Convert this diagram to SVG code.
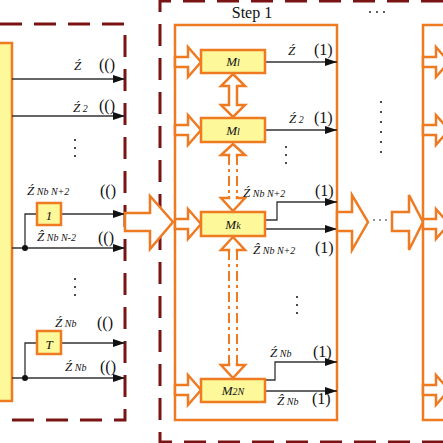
<svg xmlns="http://www.w3.org/2000/svg" width="443" height="443" viewBox="0 0 443 443">
<style>
.dash{fill:none;stroke:#7a1414;stroke-width:3;stroke-dasharray:22 12}
.obox{fill:none;stroke:#ee7a22;stroke-width:2.5}
.ybox{fill:#fdf89a;stroke:#ee7a22;stroke-width:2.5}
.harrow{fill:#fff;stroke:#ee7a22;stroke-width:2.5;stroke-linejoin:miter}
.ln{fill:none;stroke:#333;stroke-width:1.3}
.dsh{fill:none;stroke:#ee7a22;stroke-width:2;stroke-dasharray:10 4 3 4}
.lab{font-family:"Liberation Serif",serif;font-style:italic;font-size:13px;fill:#111}
.sub{font-size:10px}
.par{font-family:"Liberation Serif",serif;font-size:16px;fill:#111}
.mt{font-family:"Liberation Serif",serif;font-style:italic;font-size:13px;fill:#111}
.dot{fill:#111}
</style>
<defs>
<marker id="ah" viewBox="0 0 12 8" refX="12" refY="4" markerWidth="12" markerHeight="8" markerUnits="userSpaceOnUse" orient="auto">
<path d="M0,0 L12,4 L0,8 Z" fill="#111"/>
</marker>
<polygon id="inarrow" points="0,-5 13,-5 13,-15 26,0 13,15 13,5 0,5"/>
</defs>
<rect width="443" height="443" fill="#fff"/>

<g id="dashed-boxes">
<path class="dash" d="M0,24 H125 V420 H0"/>
<path class="dash" d="M443,1 H160 V442 H443"/>
</g>

<g id="source">
<rect class="ybox" x="-10" y="43" width="22" height="358"/>
</g>

<g id="step1-box">
<rect class="obox" x="175" y="25" width="162" height="395"/>
<text x="252" y="18" text-anchor="middle" font-family="Liberation Serif, serif" font-size="16" fill="#111">Step 1</text>
</g>

<g id="next-step-box">
<rect class="obox" x="423" y="25" width="100" height="395"/>
</g>

<g id="connectors">
<line class="ln" x1="12" y1="79" x2="125" y2="79" marker-end="url(#ah)"/>
<line class="ln" x1="12" y1="116" x2="125" y2="116" marker-end="url(#ah)"/>
<line class="ln" x1="12" y1="248" x2="125" y2="248" marker-end="url(#ah)"/>
<polyline class="ln" points="25,248 25,214 37,214"/>
<line class="ln" x1="61" y1="214" x2="125" y2="214" marker-end="url(#ah)"/>
<circle class="dot" cx="25" cy="248" r="3"/>
<line class="ln" x1="12" y1="378" x2="125" y2="378" marker-end="url(#ah)"/>
<polyline class="ln" points="25,378 25,343 37,343"/>
<line class="ln" x1="61" y1="343" x2="125" y2="343" marker-end="url(#ah)"/>
<circle class="dot" cx="25" cy="378" r="3"/>

<line class="ln" x1="265" y1="62" x2="337" y2="62" marker-end="url(#ah)"/>
<line class="ln" x1="265" y1="130" x2="337" y2="130" marker-end="url(#ah)"/>
<polyline class="ln" points="265,220 277,220 277,202 337,202" marker-end="url(#ah)"/>
<line class="ln" x1="265" y1="229" x2="337" y2="229" marker-end="url(#ah)"/>
<polyline class="ln" points="265,380 275,380 275,362 337,362" marker-end="url(#ah)"/>
<line class="ln" x1="265" y1="391" x2="337" y2="391" marker-end="url(#ah)"/>

<polygon class="harrow" points="125,213 150,213 150,196 173,222 150,249 150,231 125,231"/>
<polygon class="harrow" points="337,212 352,212 352,195 368,222 352,250 352,231 337,231"/>
<polygon class="harrow" points="392,212 409,212 409,195 423,222 409,250 409,231 392,231"/>

<use href="#inarrow" class="harrow" x="175" y="62"/>
<use href="#inarrow" class="harrow" x="175" y="130"/>
<use href="#inarrow" class="harrow" x="175" y="224"/>
<use href="#inarrow" class="harrow" x="175" y="390"/>
<use href="#inarrow" class="harrow" x="423" y="62"/>
<use href="#inarrow" class="harrow" x="423" y="130"/>
<use href="#inarrow" class="harrow" x="423" y="224"/>
<use href="#inarrow" class="harrow" x="423" y="390"/>

<polygon class="harrow" points="233,74 245,86 237,86 237,105 245,105 233,117 221,105 229,105 229,86 221,86"/>
<path class="harrow" d="M229,157 V155 H221 L233,144 L245,155 H237 V157"/>
<line class="dsh" x1="229" y1="155" x2="229" y2="198"/>
<line class="dsh" x1="237" y1="155" x2="237" y2="198"/>
<path class="harrow" d="M229,196 V198 H221 L233,211 L245,198 H237 V196"/>
<path class="harrow" d="M229,252 V250 H221 L233,237 L245,250 H237 V252"/>
<line class="dsh" x1="229" y1="250" x2="229" y2="365"/>
<line class="dsh" x1="237" y1="250" x2="237" y2="365"/>
<path class="harrow" d="M229,363 V365 H221 L233,378 L245,365 H237 V363"/>
</g>

<g id="delay1">
<rect class="ybox" x="37" y="203" width="24" height="22"/>
<text class="mt" x="49" y="220" text-anchor="middle" font-size="17">1</text>
</g>
<g id="delay2">
<rect class="ybox" x="37" y="331" width="24" height="23"/>
<text class="mt" x="49" y="349" text-anchor="middle" font-size="17">T</text>
</g>

<g id="M1"><rect class="ybox" x="201" y="50" width="64" height="23"/><text class="mt" x="233" y="66" text-anchor="middle">M<tspan class="sub">l</tspan></text></g>
<g id="M2"><rect class="ybox" x="201" y="118" width="64" height="24"/><text class="mt" x="233" y="135" text-anchor="middle">M<tspan class="sub">l</tspan></text></g>
<g id="Mk"><rect class="ybox" x="201" y="212" width="64" height="24"/><text class="mt" x="233" y="229" text-anchor="middle">M<tspan class="sub">k</tspan></text></g>
<g id="M2N"><rect class="ybox" x="201" y="379" width="64" height="23"/><text class="mt" x="233" y="395" text-anchor="middle">M<tspan class="sub">2N</tspan></text></g>

<g id="labels">
<text class="lab" x="74" y="70">Ź</text><text class="par" x="99" y="70">(()</text>
<text class="lab" x="73" y="112">Ź<tspan class="sub"> 2</tspan></text><text class="par" x="99" y="111">(()</text>
<text class="lab" x="27" y="195">Ź<tspan class="sub"> Nb N+2</tspan></text><text class="par" x="100" y="196">(()</text>
<text class="lab" x="37" y="241">Ẑ<tspan class="sub"> Nb N-2</tspan></text><text class="par" x="98" y="243">(()</text>
<text class="lab" x="55" y="327">Ź<tspan class="sub"> Nb</tspan></text><text class="par" x="97" y="328">(()</text>
<text class="lab" x="65" y="371">Ź<tspan class="sub"> Nb</tspan></text><text class="par" x="100" y="372">(()</text>

<text class="lab" x="288" y="55">Ź</text><text class="par" x="314" y="55">(1)</text>
<text class="lab" x="289" y="123">Ź<tspan class="sub"> 2</tspan></text><text class="par" x="314" y="123">(1)</text>
<text class="lab" x="243" y="197">Ź<tspan class="sub"> Nb N+2</tspan></text><text class="par" x="315" y="196">(1)</text>
<text class="lab" x="253" y="254">Ẑ<tspan class="sub"> Nb N+2</tspan></text><text class="par" x="315" y="253">(1)</text>
<text class="lab" x="270" y="357">Ź<tspan class="sub"> Nb</tspan></text><text class="par" x="313" y="357">(1)</text>
<text class="lab" x="277" y="405">Ẑ<tspan class="sub"> Nb</tspan></text><text class="par" x="312" y="404">(1)</text>
</g>

<g id="ellipses">
<circle class="dot" cx="75" cy="140" r="1"/><circle class="dot" cx="75" cy="148" r="1"/><circle class="dot" cx="75" cy="156" r="1"/>
<circle class="dot" cx="75" cy="279" r="1"/><circle class="dot" cx="75" cy="287" r="1"/><circle class="dot" cx="75" cy="295" r="1"/>
<circle class="dot" cx="286" cy="147" r="1"/><circle class="dot" cx="286" cy="155" r="1"/><circle class="dot" cx="286" cy="163" r="1"/>
<circle class="dot" cx="297" cy="297" r="1"/><circle class="dot" cx="297" cy="305" r="1"/><circle class="dot" cx="297" cy="313" r="1"/>
<circle class="dot" cx="381" cy="102" r="1"/><circle class="dot" cx="381" cy="112" r="1"/><circle class="dot" cx="381" cy="122" r="1"/><circle class="dot" cx="381" cy="132" r="1"/><circle class="dot" cx="381" cy="142" r="1"/><circle class="dot" cx="381" cy="152" r="1"/>
<circle class="dot" cx="370" cy="12" r="0.9"/><circle class="dot" cx="377" cy="12" r="0.9"/><circle class="dot" cx="384" cy="12" r="0.9"/>
<circle class="dot" cx="374" cy="220" r="0.8"/><circle class="dot" cx="380" cy="220" r="0.8"/><circle class="dot" cx="386" cy="220" r="0.8"/>
</g>
</svg>
